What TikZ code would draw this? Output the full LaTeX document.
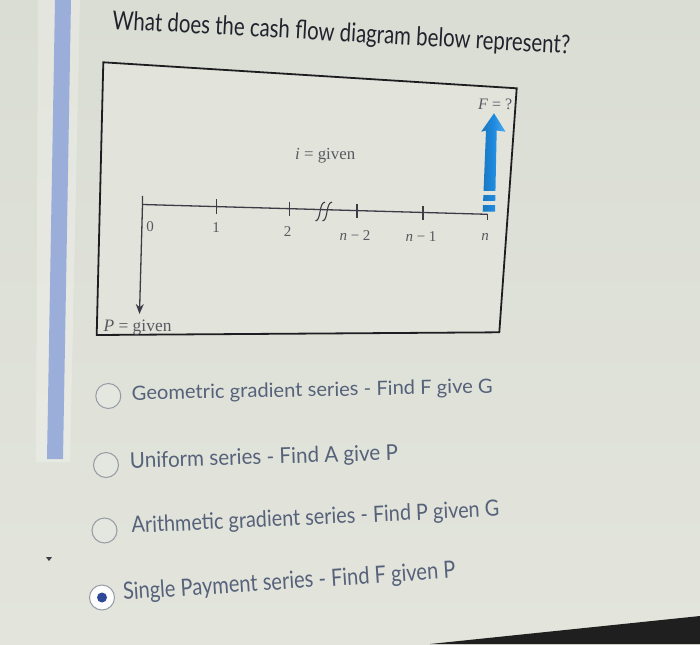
\documentclass[tikz,border=0pt]{standalone}
\usepackage{fontspec}
\setmainfont{Liberation Serif}
\newfontfamily\lato{Lato}
\usepackage{graphicx}
\usetikzlibrary{arrows.meta}
\definecolor{bgtop}{RGB}{218,221,211}
\definecolor{bgbot}{RGB}{227,229,220}
\definecolor{boxfill}{RGB}{226,228,219}
\definecolor{barblue}{RGB}{155,174,218}
\definecolor{titlecol}{RGB}{34,34,46}
\definecolor{optcol}{RGB}{86,97,122}
\definecolor{ringcol}{RGB}{150,155,165}
\definecolor{ringfill}{RGB}{228,230,224}
\definecolor{dotblue}{RGB}{45,72,150}
\definecolor{inkcol}{RGB}{60,60,70}
\definecolor{boxcol}{RGB}{30,30,34}
\definecolor{arrowblue}{RGB}{30,138,222}
\definecolor{arrowlight}{RGB}{75,170,240}
\tikzset{
  axisline/.style={draw=inkcol, line width=1.3pt},
  tickline/.style={draw=inkcol, line width=1.1pt},
  lbl/.style={inner sep=0pt, text=inkcol!85!white, font=\fontsize{15}{15}\selectfont},
  opttext/.style={inner sep=0pt, anchor=base west, text=optcol},
  radio/.style={circle, draw=ringcol, line width=1pt, fill=ringfill, minimum size=25pt, inner sep=0pt},
}
\begin{document}
\begin{tikzpicture}[x=1pt,y=-1pt]
\useasboundingbox (0,0) rectangle (700,644);
\shade[top color=bgtop, bottom color=bgbot] (0,0) rectangle (700,644);
% left blue bar
\fill[white, opacity=0.25] (38,0) -- (80,0) -- (70,462) -- (36,462) -- cycle;
\fill[barblue] (55,0) -- (71,0) -- (63,459) -- (47,459) -- cycle;
% monitor bezel
\fill[black!88] (430,644) -- (700,616) -- (700,644) -- cycle;
% tiny mark
\fill[inkcol] (46,557) -- (52,557) -- (49,561) -- cycle;

% title
\node[inner sep=0pt, anchor=base west, rotate=-3.1, text=titlecol] (title) at (112,29)
  {\resizebox{458pt}{19pt}{\lato What does the cash flow diagram below represent?}};

% diagram frame
\draw[boxcol, line width=1.8pt, fill=boxfill] (103.3,62.3) -- (516.7,88.3) -- (499.3,332.3) -- (96.7,335) -- cycle;

% time axis points
\coordinate (c0top) at (142.5,196);
\coordinate (t0) at (142.5,204.5);
\coordinate (t1) at (216.7,206.5);
\coordinate (t2) at (289.3,208.7);
\coordinate (tn2) at (357,210.8);
\coordinate (tn1) at (423,212.6);
\coordinate (tn) at (487.3,214.3);
\coordinate (pend) at (139.5,314);

\draw[axisline] (t0) -- (tn);
\draw[axisline, -{Stealth[length=10pt,width=8pt]}] (c0top) -- (t0) -- (pend);
\foreach \t in {t1,t2,tn2,tn1}{
  \draw[tickline] ([yshift=7pt]\t) -- ([yshift=-7pt]\t);
}
\draw[tickline] (tn) -- ([yshift=-6pt]tn);
% break mark
\draw[tickline] (315.5,221) .. controls (321.5,220) and (318.5,203) .. (325,202);
\draw[tickline] (322.5,221) .. controls (328.5,220) and (325.5,203) .. (332,202);

% labels
\node[lbl, anchor=base] (l0) at (150,231.7) {0};
\node[lbl, anchor=base] (l1) at (216,232.5) {1};
\node[lbl, anchor=base] (l2) at (287.5,236.7) {2};
\node[lbl, anchor=base] (ln2) at (355,240) {\textit{n} − 2};
\node[lbl, anchor=base] (ln1) at (421,241) {\textit{n} − 1};
\node[lbl, anchor=base] (ln) at (485,240) {\textit{n}};
\node[lbl, anchor=base west] (ilbl) at (295,160) {\resizebox{60pt}{!}{\textit{i} = given}};
\node[lbl, anchor=base west] (plbl) at (103.3,331) {\resizebox{68pt}{!}{\textit{P} = given}};
\node[lbl, anchor=base west] (flbl) at (478,110) {\resizebox{34pt}{!}{\textit{F} = ?}};

% future value arrow
\shade[left color=arrowblue!85!black, right color=arrowlight, middle color=arrowblue]
  (482.7,211.7) -- (486,130.5) -- (481.2,131.7) -- (494,113.3) -- (505.5,131.7) -- (496.7,130.5) -- (495,211.7) -- cycle;
\fill[boxfill] (481,191.5) -- (497,191.5) -- (497,195.5) -- (481,195.5) -- cycle;
\fill[boxfill] (481,201.5) -- (497,201.5) -- (497,205) -- (481,205) -- cycle;

% options
\node[radio] (r1) at (108.3,396) {};
\node[opttext, rotate=1.1] (o1) at (131.7,400)
  {\resizebox{361pt}{14.5pt}{\lato Geometric gradient series - Find F give G}};
\node[radio] (r2) at (106,465) {};
\node[opttext, rotate=1.8] (o2) at (130,468.3)
  {\resizebox{268pt}{16pt}{\lato Uniform series - Find A give P}};
\node[radio] (r3) at (104.5,530.5) {};
\node[opttext, rotate=2.6] (o3) at (131.7,533)
  {\resizebox{368pt}{16.5pt}{\lato Arithmetic gradient series - Find P given G}};
\node[radio, fill=white!92!ringfill] (r4) at (102,597.5) {};
\node[circle, fill=dotblue, minimum size=10pt, inner sep=0pt] (r4dot) at (r4.center) {};
\node[opttext, rotate=3.8] (o4) at (123.3,600)
  {\resizebox{333pt}{17.5pt}{\lato Single Payment series - Find F given P}};
\end{tikzpicture}
\end{document}
